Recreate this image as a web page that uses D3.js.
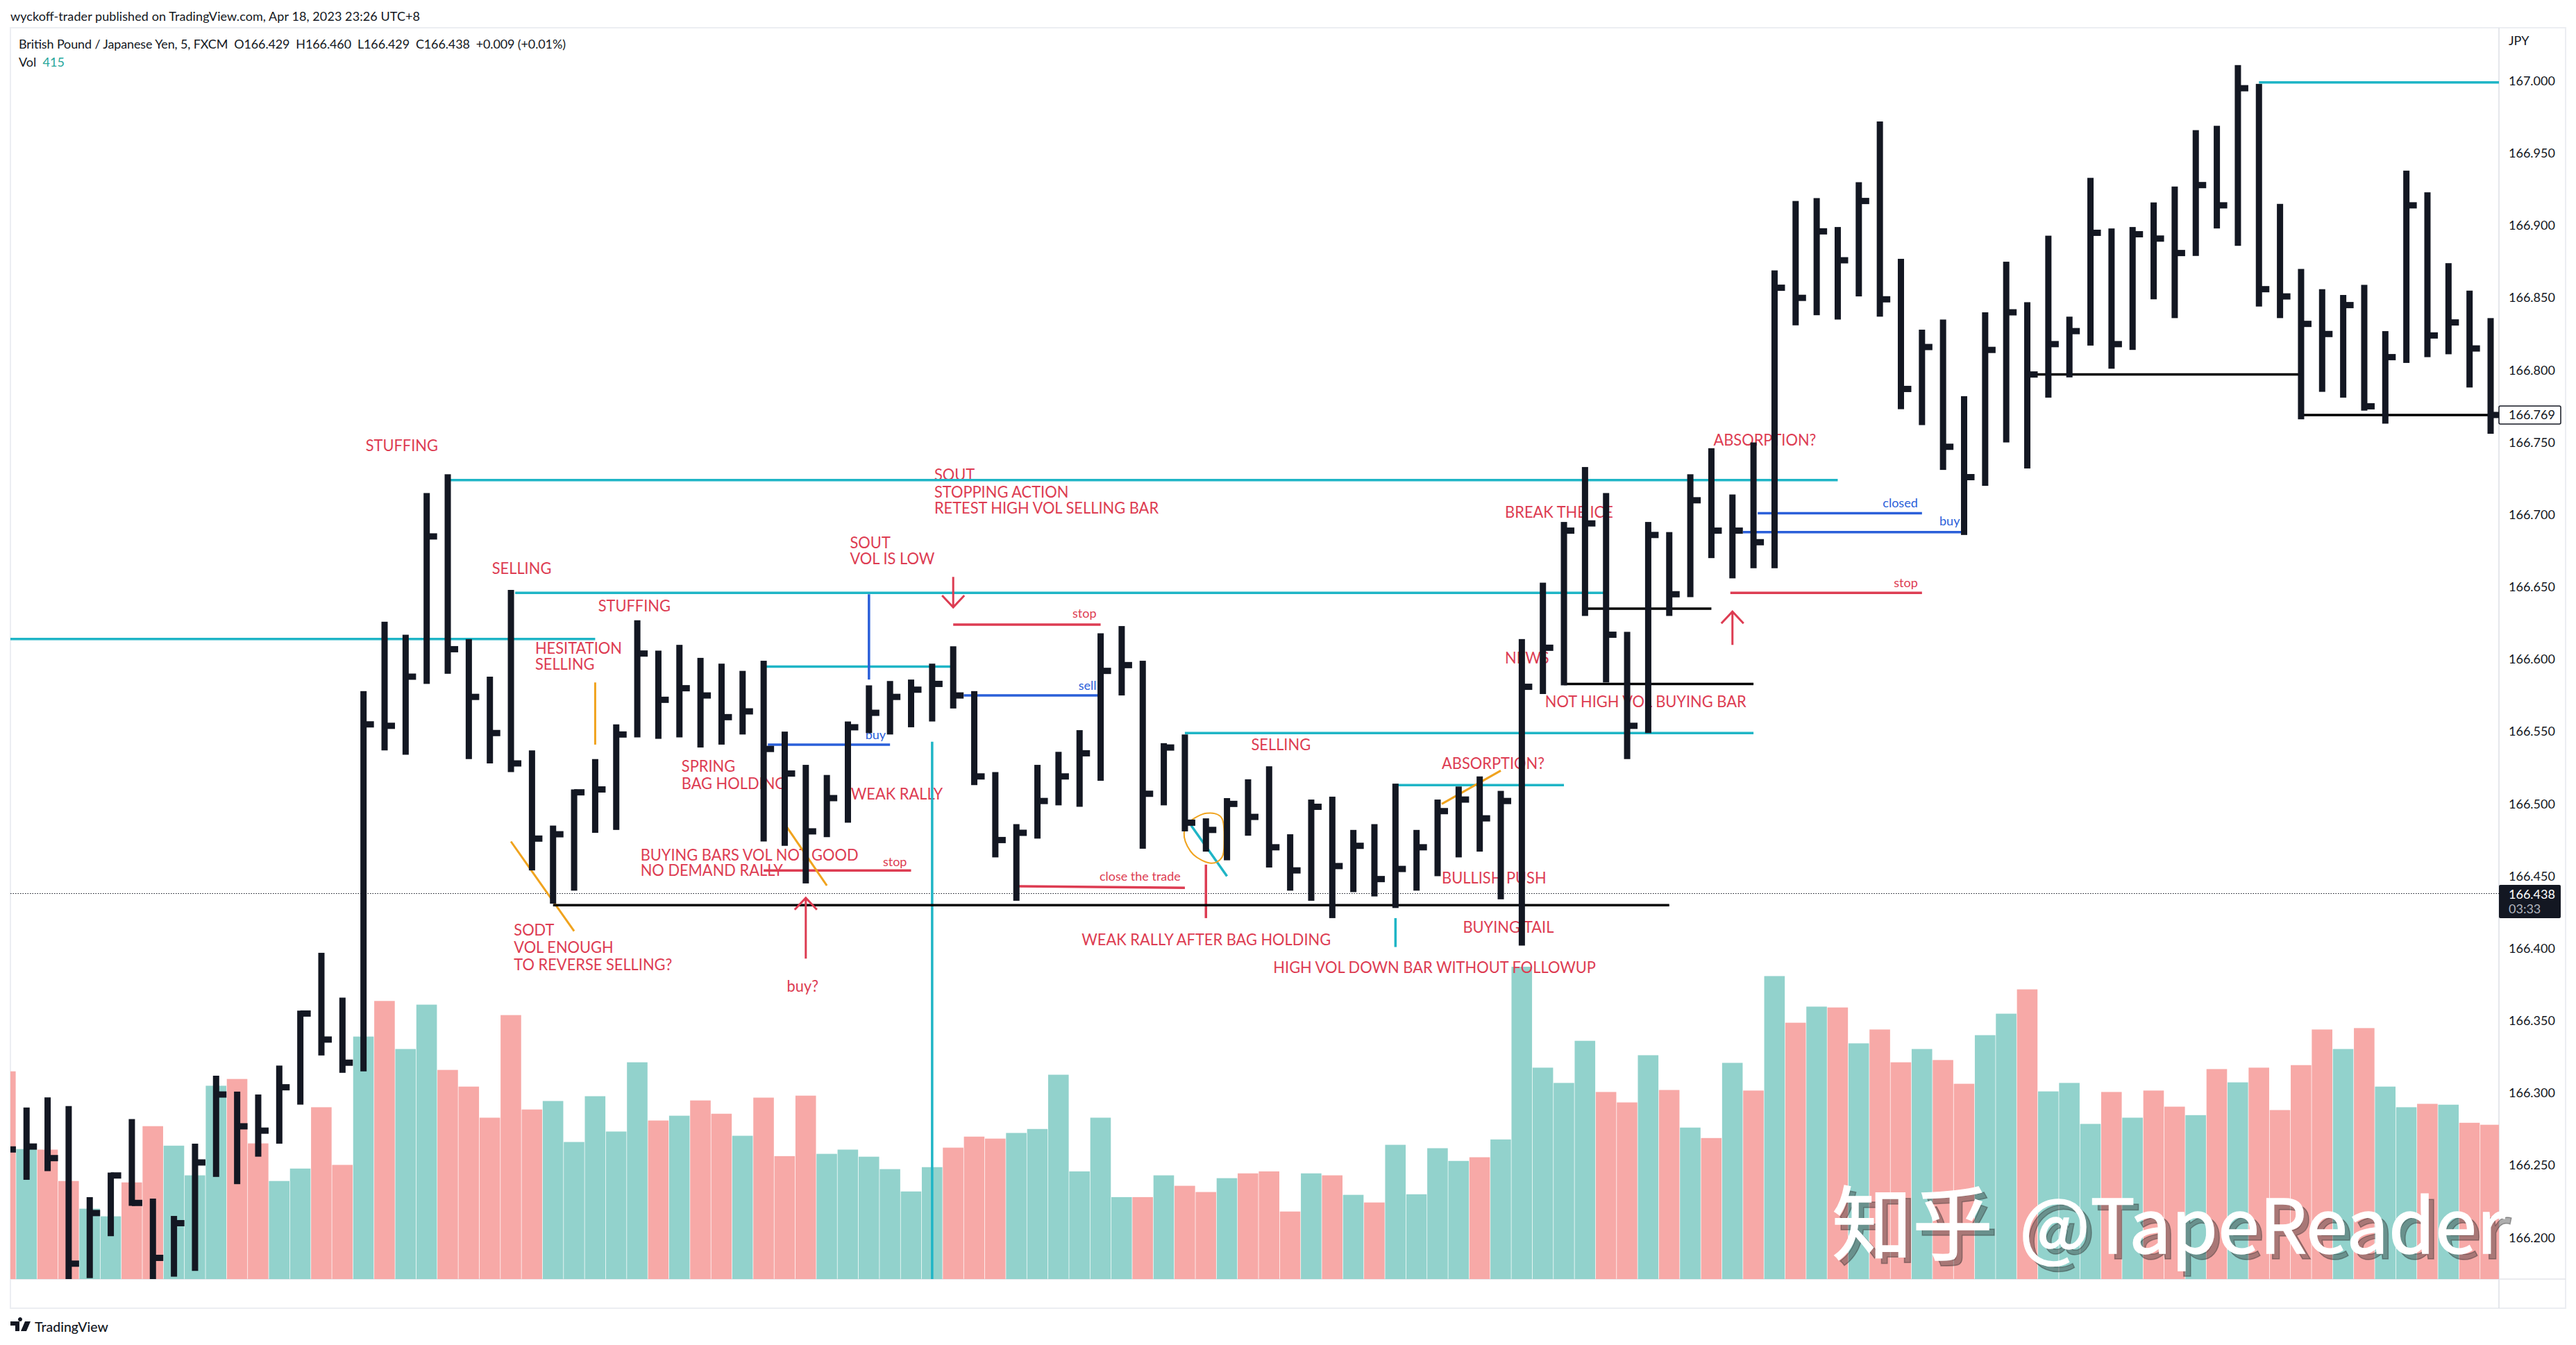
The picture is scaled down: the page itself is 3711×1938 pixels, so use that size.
<!DOCTYPE html>
<html>
<head>
<meta charset="utf-8">
<title>GBPJPY 5</title>
<style>
    html, body { margin: 0; padding: 0; background: #fff; }
    svg { display: block; }
    text { font-family: Lato, "Open Sans", sans-serif; }
    .axis text { fill: #131722; font-size: 18px; }
    .note { fill: #dd3c52; font-size: 24px; }
    .small { font-size: 18px; }
</style>
</head>
<body>
<div id="chart"></div>
<script src="https://d3js.org/d3.v7.min.js"></script>
<script>
// Bars, one every 5 minutes from 08:00 (index 0) to 17:50 (index 118)
const barHigh = [
    166.300, 166.290, 166.297, 166.291, 166.228, 166.245, 166.282, 166.227, 166.215, 166.265,
    166.312, 166.301, 166.299, 166.319, 166.357, 166.397, 166.366, 166.578, 166.626, 166.617,
    166.715, 166.728, 166.614, 166.588, 166.648, 166.537, 166.485, 166.510, 166.531, 166.555,
    166.627, 166.606, 166.610, 166.601, 166.597, 166.592, 166.599, 166.550, 166.527, 166.520,
    166.557, 166.582, 166.585, 166.586, 166.597, 166.609, 166.578, 166.522, 166.486, 166.527,
    166.536, 166.551, 166.618, 166.623, 166.599, 166.542, 166.548, 166.490, 166.504, 166.517,
    166.526, 166.479, 166.503, 166.505, 166.482, 166.486, 166.514, 166.482, 166.503, 166.512,
    166.519, 166.509, 166.614, 166.653, 166.695, 166.733, 166.715, 166.619, 166.695, 166.688,
    166.728, 166.746, 166.714, 166.750, 166.869, 166.917, 166.919, 166.899, 166.930, 166.972,
    166.877, 166.828, 166.835, 166.782, 166.840, 166.875, 166.847, 166.893, 166.837, 166.933,
    166.898, 166.899, 166.916, 166.927, 166.966, 166.969, 167.011, 166.998, 166.915, 166.870,
    166.856, 166.852, 166.859, 166.827, 166.938, 166.923, 166.874, 166.855, 166.836
];
const barLow = [
    166.220, 166.240, 166.246, 166.170, 166.172, 166.201, 166.222, 166.170, 166.173, 166.177,
    166.242, 166.237, 166.256, 166.265, 166.292, 166.326, 166.314, 166.315, 166.537, 166.534,
    166.583, 166.590, 166.531, 166.528, 166.522, 166.454, 166.431, 166.440, 166.480, 166.482,
    166.546, 166.545, 166.546, 166.539, 166.541, 166.548, 166.474, 166.471, 166.445, 166.477,
    166.487, 166.549, 166.548, 166.553, 166.557, 166.566, 166.513, 166.463, 166.433, 166.476,
    166.499, 166.498, 166.516, 166.575, 166.469, 166.499, 166.481, 166.467, 166.461, 166.478,
    166.456, 166.440, 166.433, 166.421, 166.439, 166.436, 166.428, 166.440, 166.450, 166.463,
    166.467, 166.434, 166.402, 166.576, 166.582, 166.630, 166.584, 166.531, 166.549, 166.630,
    166.643, 166.670, 166.656, 166.663, 166.663, 166.831, 166.838, 166.835, 166.851, 166.837,
    166.773, 166.762, 166.731, 166.686, 166.720, 166.750, 166.732, 166.781, 166.795, 166.817,
    166.801, 166.814, 166.849, 166.836, 166.879, 166.898, 166.886, 166.844, 166.836, 166.766,
    166.785, 166.781, 166.772, 166.763, 166.805, 166.809, 166.811, 166.788, 166.756
];
const barClose = [
    166.261, 166.263, 166.255, 166.182, 166.217, 166.243, 166.224, 166.186, 166.210, 166.252,
    166.299, 166.277, 166.274, 166.304, 166.355, 166.337, 166.321, 166.555, 166.554, 166.588,
    166.685, 166.607, 166.574, 166.549, 166.528, 166.476, 166.479, 166.508, 166.510, 166.548,
    166.604, 166.572, 166.580, 166.575, 166.560, 166.564, 166.538, 166.521, 166.481, 166.504,
    166.553, 166.563, 166.574, 166.579, 166.583, 166.575, 166.519, 166.475, 166.480, 166.502,
    166.519, 166.535, 166.592, 166.596, 166.507, 166.539, 166.487, 166.482, 166.500, 166.491,
    166.470, 166.454, 166.498, 166.457, 166.471, 166.448, 166.455, 166.470, 166.495, 166.503,
    166.490, 166.502, 166.581, 166.608, 166.689, 166.694, 166.617, 166.554, 166.686, 166.645,
    166.710, 166.689, 166.689, 166.681, 166.857, 166.850, 166.896, 166.876, 166.917, 166.849,
    166.787, 166.816, 166.747, 166.726, 166.814, 166.840, 166.797, 166.818, 166.827, 166.895,
    166.818, 166.894, 166.891, 166.881, 166.928, 166.914, 166.995, 166.856, 166.851, 166.832,
    166.825, 166.845, 166.775, 166.809, 166.914, 166.824, 166.833, 166.815, 166.769
];
const volume = [
    735, 460, 458, 347, 249, 222, 342, 541, 472, 367,
    684, 708, 480, 347, 391, 608, 404, 858, 984, 814,
    971, 740, 681, 571, 934, 600, 630, 485, 647, 522,
    767, 561, 578, 632, 585, 507, 642, 435, 649, 443,
    458, 433, 389, 310, 396, 465, 504, 497, 517, 531,
    723, 381, 571, 290, 290, 367, 330, 308, 357, 374,
    381, 239, 374, 367, 298, 271, 475, 300, 463, 418,
    431, 494, 1105, 748, 694, 843, 662, 625, 792, 669,
    536, 499, 765, 667, 1072, 907, 964, 961, 834, 883,
    767, 814, 775, 691, 863, 939, 1025, 664, 694, 549,
    662, 571, 667, 610, 580, 743, 696, 748, 598, 757,
    883, 814, 888, 681, 608, 620, 617, 553, 546
];
// 1 = up bar, 0 = down bar
const volumeUp = [
    0, 1, 0, 0, 1, 1, 0, 0, 1, 1,
    1, 0, 0, 1, 1, 0, 0, 1, 0, 1,
    1, 0, 0, 0, 0, 0, 1, 1, 1, 1,
    1, 0, 1, 0, 0, 1, 0, 0, 0, 1,
    1, 1, 1, 1, 1, 0, 0, 0, 1, 1,
    1, 1, 1, 1, 0, 1, 0, 0, 1, 0,
    0, 0, 1, 0, 1, 0, 1, 1, 1, 1,
    0, 1, 1, 1, 1, 1, 0, 0, 1, 0,
    1, 0, 1, 0, 1, 0, 1, 0, 1, 0,
    0, 1, 0, 0, 1, 1, 0, 1, 1, 1,
    0, 1, 0, 0, 1, 0, 1, 0, 0, 0,
    0, 1, 0, 1, 1, 0, 1, 0, 0
];

const timeTickIndex = d3.range(0, 119, 6);
const timeLabels = ["08:00", "08:30", "09:00", "09:30", "10:00", "10:30", "11:00", "11:30", "12:00", "12:30",
    "13:00", "13:30", "14:00", "14:30", "15:00", "15:30", "16:00", "16:30", "17:00", "17:30"];
const priceTicks = d3.range(166.2, 167.001, 0.05);

// Drawn lines: [bar index, price, bar index, price]
const cyanLines = [
    [-1, 166.614, 28, 166.614], [21.1, 166.724, 87, 166.724], [24.2, 166.646, 75.9, 166.646],
    [36, 166.595, 45, 166.595], [56, 166.549, 83, 166.549], [66, 166.513, 74, 166.513],
    [107, 166.999, 118.4, 166.999], [44, 166.543, 44, 166.171], [66, 166.421, 66, 166.401],
    [56.3, 166.485, 58, 166.450]
];
const blueLines = [
    [41, 166.645, 41, 166.586], [36.2, 166.541, 42, 166.541], [45.5, 166.575, 51.9, 166.575],
    [83.2, 166.701, 91, 166.701], [82.5, 166.688, 92.9, 166.688]
];
const redLines = [
    [45, 166.624, 52, 166.624], [36, 166.454, 43, 166.454], [48.1, 166.443, 56, 166.442],
    [81.9, 166.646, 91, 166.646], [57, 166.458, 57, 166.421]
];
const blackLines = [
    [26, 166.430, 79, 166.430], [75, 166.635, 81, 166.635], [74, 166.583, 83, 166.583],
    [96, 166.797, 109, 166.797], [109, 166.769, 118, 166.769]
];
const orangeLines = [
    [28, 166.584, 28, 166.541], [24, 166.474, 27, 166.412], [37.1, 166.484, 39, 166.4435],
    [68.2, 166.500, 71, 166.523]
];
// Hand drawn loop round the bag holding bar: [bar index, price]
const orangeLoop = [
    [56.18, 166.487], [57.03, 166.4935], [57.76, 166.490], [57.86, 166.473],
    [57.76, 166.463], [57.23, 166.459], [56.4, 166.465], [55.97, 166.477]
];
// Arrows: [bar index, price at tip, price at tail]
const redArrows = [[45, 166.636, 166.657], [38, 166.435, 166.393], [82, 166.633, 166.610]];

// Red notes: [text, bar index, price]
const notes = [
    ["STUFFING", 17.1, 166.744], ["SELLING", 23.1, 166.659], ["STUFFING", 28.14, 166.633],
    ["HESITATION", 25.15, 166.604], ["SELLING", 25.15, 166.593],
    ["SPRING", 32.1, 166.522], ["BAG HOLDING", 32.1, 166.510], ["WEAK RALLY", 40.14, 166.503],
    ["BUYING BARS VOL NOT GOOD", 30.15, 166.461], ["NO DEMAND RALLY", 30.15, 166.450],
    ["SOUT", 40.1, 166.677], ["VOL IS LOW", 40.1, 166.666],
    ["SOUT", 44.1, 166.724], ["STOPPING ACTION", 44.1, 166.712], ["RETEST HIGH VOL SELLING BAR", 44.1, 166.701],
    ["SODT", 24.14, 166.409], ["VOL ENOUGH", 24.14, 166.397], ["TO REVERSE SELLING?", 24.14, 166.385],
    ["buy?", 37.1, 166.370], ["WEAK RALLY AFTER BAG HOLDING", 51.1, 166.402],
    ["HIGH VOL DOWN BAR WITHOUT FOLLOWUP", 60.2, 166.383], ["BUYING TAIL", 69.2, 166.411],
    ["BULLISH PUSH", 68.2, 166.445], ["ABSORPTION?", 68.2, 166.524], ["SELLING", 59.15, 166.537],
    ["NEWS", 71.2, 166.597], ["NOT HIGH VOL BUYING BAR", 73.1, 166.567],
    ["BREAK THE ICE", 71.2, 166.698], ["ABSORPTION?", 81.1, 166.748]
];
// Small labels, right aligned: [text, bar index, price]
const redSmall = [
    ["stop", 51.8, 166.629], ["stop", 42.8, 166.457], ["close the trade", 55.8, 166.447], ["stop", 90.8, 166.650]
];
const blueSmall = [
    ["sell", 51.8, 166.579], ["buy", 41.8, 166.545], ["closed", 90.8, 166.705], ["buy", 92.8, 166.6925]
];

const W = 3711, H = 1938;
const plot = {left: 15, right: 3600, top: 40, bottom: 1843};
const dark = "#131722";
const cyan = "#1fb5c6", blue = "#2a5fd9", red = "#dd3c52", orange = "#f0a31e";

const x = d3.scaleLinear().domain([0, 118]).range([7.9, 3588]);
const y = d3.scaleLinear().domain([167, 166.2]).range([116.7, 1783.3]);
const yVol = d3.scaleLinear().domain([0, 1105]).range([plot.bottom, plot.bottom - 450]);

const svg = d3.select("#chart").append("svg")
    .attr("width", W).attr("height", H).attr("viewBox", `0 0 ${W} ${H}`);

svg.append("clipPath").attr("id", "plotClip").append("rect")
    .attr("x", plot.left).attr("y", plot.top)
    .attr("width", plot.right - plot.left).attr("height", plot.bottom - plot.top);
svg.append("clipPath").attr("id", "timeClip").append("rect")
    .attr("x", plot.left).attr("y", plot.bottom)
    .attr("width", plot.right - plot.left).attr("height", 42);

// Frame
svg.append("rect").attr("x", plot.left).attr("y", plot.top)
    .attr("width", 3696 - plot.left).attr("height", 1885 - plot.top)
    .attr("fill", "none").attr("stroke", "#eceef2").attr("stroke-width", 2);
svg.append("line").attr("x1", plot.right).attr("x2", plot.right).attr("y1", plot.top).attr("y2", 1885)
    .attr("stroke", "#dcdfe6").attr("stroke-width", 1.5);
svg.append("line").attr("x1", plot.left).attr("x2", 3696).attr("y1", plot.bottom).attr("y2", plot.bottom)
    .attr("stroke", "#e3e5ea").attr("stroke-width", 1.5);

const chart = svg.append("g").attr("clip-path", "url(#plotClip)");

// Volume
chart.append("g").selectAll("rect")
    .data(volume)
    .join("rect")
    .attr("x", (d, i) => x(i) - 14.9)
    .attr("width", 29.6)
    .attr("y", d => yVol(d))
    .attr("height", d => plot.bottom - yVol(d))
    .attr("fill", (d, i) => volumeUp[i] ? "#92d2cc" : "#f7a9a7");

// Last price dotted line
chart.append("line")
    .attr("x1", plot.left).attr("x2", plot.right)
    .attr("y1", y(166.438)).attr("y2", y(166.438))
    .attr("stroke", "#131722").attr("stroke-width", 1).attr("stroke-dasharray", "1.5 2");

// Red notes, squeezed a little to the width of the original lettering
chart.append("g").selectAll("text")
    .data(notes)
    .join("text")
    .attr("class", "note")
    .attr("transform", d => `translate(${x(d[1])},${y(d[2])}) scale(0.91,1)`)
    .text(d => d[0]);

function smallLabels(data, color) {
    chart.append("g").selectAll("text")
        .data(data)
        .join("text")
        .attr("class", "small")
        .attr("text-anchor", "end")
        .attr("fill", color)
        .attr("x", d => x(d[1]))
        .attr("y", d => y(d[2]))
        .text(d => d[0]);
}
smallLabels(redSmall, red);
smallLabels(blueSmall, blue);

function drawLines(data, color, width) {
    chart.append("g").selectAll("line")
        .data(data)
        .join("line")
        .attr("x1", d => x(d[0])).attr("y1", d => y(d[1]))
        .attr("x2", d => x(d[2])).attr("y2", d => y(d[3]))
        .attr("stroke", color).attr("stroke-width", width);
}
drawLines(cyanLines, cyan, 3.5);
drawLines(blueLines, blue, 3.5);
drawLines(redLines, red, 3.5);
drawLines(orangeLines, orange, 3);
drawLines(blackLines, "#000", 3.5);

chart.append("path")
    .attr("d", d3.line().x(d => x(d[0])).y(d => y(d[1])).curve(d3.curveCardinalClosed)(orangeLoop))
    .attr("fill", "none").attr("stroke", orange).attr("stroke-width", 2);

// Arrows
chart.append("g").selectAll("path")
    .data(redArrows)
    .join("path")
    .attr("d", d => {
        const px = x(d[0]), tip = y(d[1]), tail = y(d[2]);
        const dir = tail > tip ? 1 : -1;
        return `M${px},${tail}L${px},${tip}M${px - 16},${tip + dir * 17}L${px},${tip}L${px + 16},${tip + dir * 17}`;
    })
    .attr("fill", "none").attr("stroke", red).attr("stroke-width", 3);

// HLC bars, close tick on the right
const bars = chart.append("g").attr("fill", dark);
bars.selectAll("rect.stem")
    .data(barHigh)
    .join("rect")
    .attr("class", "stem")
    .attr("x", (d, i) => x(i) - 4.5)
    .attr("width", 9)
    .attr("y", d => y(d))
    .attr("height", (d, i) => y(barLow[i]) - y(d));
bars.selectAll("rect.tick")
    .data(barClose)
    .join("rect")
    .attr("class", "tick")
    .attr("x", (d, i) => x(i))
    .attr("width", 15)
    .attr("y", d => y(d) - 4.5)
    .attr("height", 9);

// Time axis
const timeAxis = svg.append("g")
    .attr("class", "axis")
    .attr("clip-path", "url(#timeClip)")
    .attr("transform", `translate(0,${plot.bottom})`)
    .call(d3.axisBottom(x).tickValues(timeTickIndex).tickFormat((d, i) => timeLabels[i]).tickSize(0).tickPadding(13));
timeAxis.select(".domain").remove();

// Price axis
const priceAxis = svg.append("g")
    .attr("class", "axis")
    .attr("transform", `translate(${plot.right},0)`)
    .call(d3.axisRight(y).tickValues(priceTicks).tickFormat(d3.format(".3f")).tickSize(0).tickPadding(14));
priceAxis.select(".domain").remove();

svg.append("text").attr("x", 3614).attr("y", 65).attr("font-size", 18).attr("fill", dark).text("JPY");

// Price tags
svg.append("rect").attr("x", plot.right).attr("y", y(166.769) - 13).attr("width", 89).attr("height", 26)
    .attr("rx", 2).attr("fill", "#fff").attr("stroke", dark).attr("stroke-width", 1.5);
svg.append("text").attr("x", 3614).attr("y", y(166.769) + 6).attr("font-size", 18).attr("fill", dark).text("166.769");
svg.append("rect").attr("x", plot.right).attr("y", 1275).attr("width", 89).attr("height", 48)
    .attr("rx", 2).attr("fill", dark);
svg.append("text").attr("x", 3614).attr("y", 1295).attr("font-size", 18).attr("fill", "#fff").text("166.438");
svg.append("text").attr("x", 3614).attr("y", 1316).attr("font-size", 18).attr("fill", "#b2b5be").text("03:33");

// Header
svg.append("text").attr("x", 15).attr("y", 30).attr("font-size", 18).attr("fill", dark)
    .attr("textLength", 590)
    .text("wyckoff-trader published on TradingView.com, Apr 18, 2023 23:26 UTC+8");
svg.append("text").attr("x", 27).attr("y", 70).attr("font-size", 18).attr("fill", dark)
    .attr("xml:space", "preserve")
    .attr("textLength", 788)
    .text("British Pound / Japanese Yen, 5, FXCM  O166.429  H166.460  L166.429  C166.438  +0.009 (+0.01%)");
const volLabel = svg.append("text").attr("x", 27).attr("y", 96).attr("font-size", 18).attr("fill", dark)
    .attr("xml:space", "preserve");
volLabel.append("tspan").text("Vol  ");
volLabel.append("tspan").attr("fill", "#26a69a").text("415");

// TradingView logo
svg.append("path")
    .attr("d", "M15,1904h13v14h-6v-8h-7zM29,1904a3,3 0 1,1 0.01,0zM36,1904h8l-6,14h-8z")
    .attr("fill", dark);
svg.append("text").attr("x", 50).attr("y", 1919).attr("font-size", 19.5).attr("font-weight", 500).attr("fill", dark)
    .text("TradingView");

// Watermark
function watermark(str, px, py, size, fill) {
    svg.append("text").attr("x", px).attr("y", py)
        .style("font-family", "'Noto Sans CJK SC'")
        .attr("font-size", size).attr("fill", fill)
        .attr("stroke", fill).attr("stroke-width", 1.5)
        .text(str);
}
[["知乎", 2639, 1806, 116], ["@TapeReader", 2909, 1806, 108]].forEach(d => {
    watermark(d[0], d[1] + 8, d[2] + 8, d[3], "rgba(40,40,40,0.38)");
    watermark(d[0], d[1], d[2], d[3], "#fff");
});
</script>
</body>
</html>
